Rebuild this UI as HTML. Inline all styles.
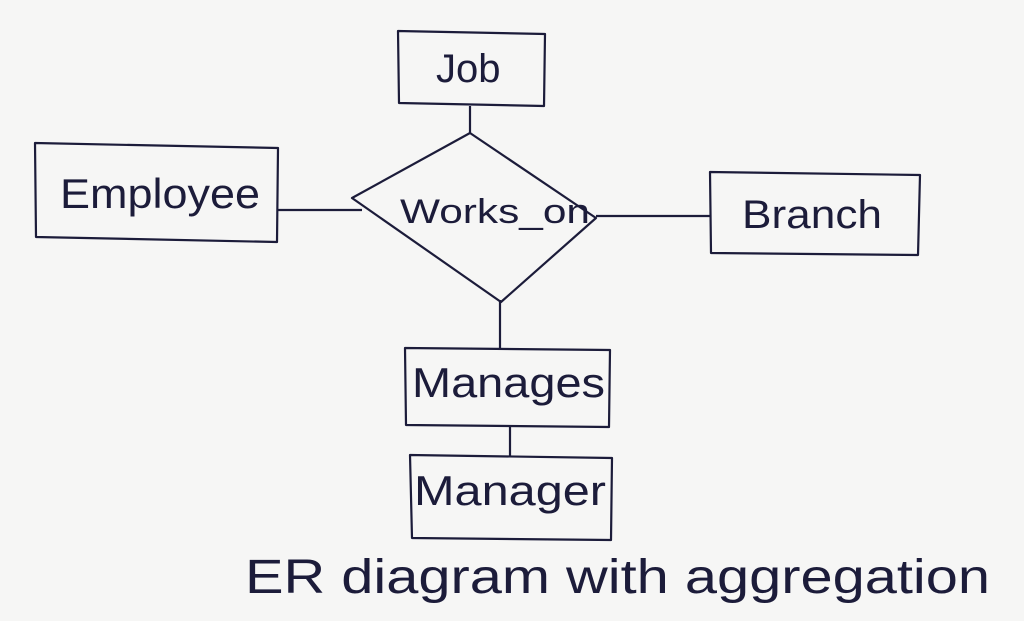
<!DOCTYPE html>
<html><head><style>
html,body{margin:0;padding:0;background:#f6f6f5;}
svg{display:block}
text{font-family:"Liberation Sans",sans-serif;fill:#1c1c3a;}
</style></head><body>
<svg width="1024" height="621" viewBox="0 0 1024 621">
<rect width="1024" height="621" fill="#f6f6f5"/>
<g stroke="#1c1c3a" stroke-width="2.2" fill="none" stroke-linejoin="round">
<polygon points="398,31 545,34 544,106 399,103"/>
<polygon points="35,143 278,148 277,242 36,237"/>
<polygon points="710,172 920,175 918,255 711,253"/>
<polygon points="405,348 610,350 609,427 406,425"/>
<polygon points="410,455 612,458 611,540 412,538"/>
<polygon points="470,133 596,218 501,302 352,198"/>
<line x1="470" y1="106" x2="470" y2="133"/>
<line x1="278" y1="210" x2="362" y2="210"/>
<line x1="596" y1="216" x2="710" y2="216"/>
<line x1="500" y1="300" x2="500" y2="348"/>
<line x1="510" y1="427" x2="510" y2="456"/>
</g>
<text x="436" y="82" font-size="40">Job</text>
<text x="60" y="208" font-size="42" textLength="200" lengthAdjust="spacingAndGlyphs">Employee</text>
<text x="400" y="223" font-size="34" textLength="190" lengthAdjust="spacingAndGlyphs">Works_on</text>
<text x="742" y="228" font-size="40" textLength="140" lengthAdjust="spacingAndGlyphs">Branch</text>
<text x="412" y="397" font-size="42" textLength="193" lengthAdjust="spacingAndGlyphs">Manages</text>
<text x="414" y="505" font-size="42" textLength="192" lengthAdjust="spacingAndGlyphs">Manager</text>
<text x="245" y="593" font-size="48" textLength="745" lengthAdjust="spacingAndGlyphs">ER diagram with aggregation</text>
</svg>
</body></html>
